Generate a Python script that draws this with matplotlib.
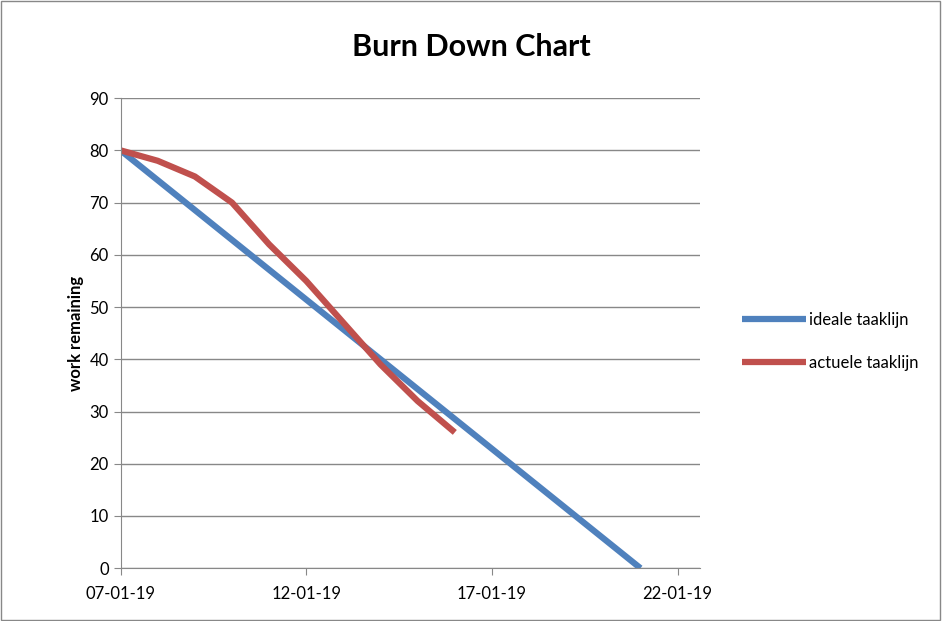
import matplotlib
matplotlib.use("Agg")
import matplotlib.pyplot as plt
import numpy as np
from datetime import datetime, timedelta

plt.rcParams['font.family'] = ['Lato', 'DejaVu Sans']

start = datetime(2019, 1, 7)
ideal_days = [0, 14]
ideal_values = [80, 0]
actual_days = [0, 1, 2, 3, 4, 5, 6, 7, 8, 9]
actual_values = [80, 78, 75, 70, 62, 55, 47, 39, 32, 26]
tick_dates = ["07-01-19", "12-01-19", "17-01-19", "22-01-19"]

ideal_x = [start + timedelta(days=d) for d in ideal_days]
actual_x = [start + timedelta(days=d) for d in actual_days]

fig = plt.figure(figsize=(9.42, 6.21), dpi=100)
ax = fig.add_axes([0.128, 0.085, 0.615, 0.757])

ax.plot(ideal_x, ideal_values, color="#4F81BD", lw=4.5, solid_capstyle="butt", label="ideale taaklijn")
ax.plot(actual_x, actual_values, color="#C0504D", lw=4.5, solid_capstyle="butt", label="actuele taaklijn")

ax.set_ylim(0, 90)
ax.set_yticks(np.arange(0, 91, 10))
ax.set_xlim(start, start + timedelta(days=15.6))
ticks = [datetime.strptime(t, "%d-%m-%y") for t in tick_dates]
ax.set_xticks(ticks)
ax.set_xticklabels(tick_dates)
ax.grid(axis="y", color="#888888", lw=1)
ax.set_axisbelow(True)
for s in ["top", "right"]:
    ax.spines[s].set_visible(False)
for s in ["left", "bottom"]:
    ax.spines[s].set_color("#888888")
ax.tick_params(labelsize=12, color="#888888", length=5)
ax.tick_params(axis="x", pad=8)
ax.set_ylabel("work remaining", fontsize=12, fontweight="bold")
fig.text(0.5, 0.925, "Burn Down Chart", fontsize=22, fontweight="bold", ha="center", va="center")

fig.legend(loc="center left", bbox_to_anchor=(0.772, 0.45), frameon=False,
           fontsize=12, handlelength=3.8, handletextpad=0.2, labelspacing=1.6)

fig.patches.append(plt.Rectangle((0.001, 0.001), 0.997, 0.997, transform=fig.transFigure,
                                 fill=False, edgecolor="#888888", lw=1))
fig.savefig("out.png", dpi=100)
